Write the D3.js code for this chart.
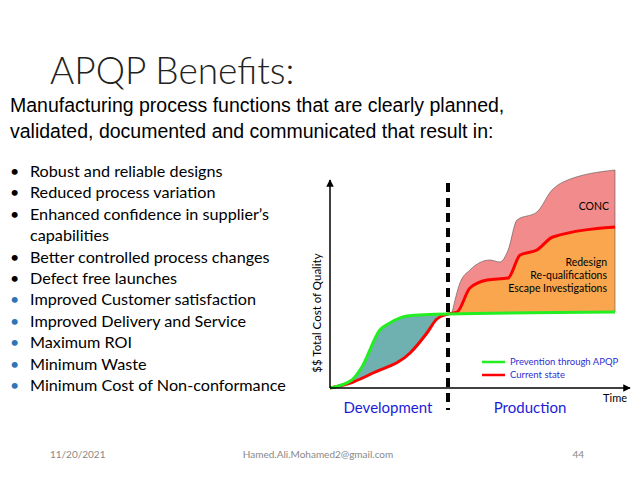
<!DOCTYPE html><html><head><meta charset="utf-8"><script src="https://d3js.org/d3.v7.min.js"></script>
<style>body{margin:0;background:#fff}</style></head><body><svg id="c" width="638" height="478"></svg>
<script>
const bullets=["Robust and reliable designs","Reduced process variation","Enhanced confidence in supplier’s","capabilities","Better controlled process changes","Defect free launches","Improved Customer satisfaction","Improved Delivery and Service","Maximum ROI","Minimum Waste","Minimum Cost of Non-conformance"];
const bulletMark=[1,1,1,0,1,1,2,2,2,2,2];
const greenT=[0,7.7,11.2,17.5,21,27,41.4,100];
const greenV=[0,8,21,58,65,72,74,76];
const redT=[0,8.1,15.1,28.1,34,37.5,41.4,44.6,49.1,55.1,62.5,66.7,72.6,78.2,100];
const redV=[0,6,15,35,55,69,74,76,100,108,110,133,138,151,161];
const concT=[42.8,45.6,49.1,56.1,59.6,62.5,65.6,72.6,77.9,81.8,100];
const concV=[75,105,118,128,126,138,168,176,198,206,218];
const svg=d3.select("#c");
const F="Lato, 'Open Sans', sans-serif";
svg.append("text").attr("x",50).attr("y",84).attr("font-family",F).attr("font-weight",300).attr("font-size",37).attr("fill","#222").text("APQP Benefits:");
["Manufacturing process functions that are clearly planned,","validated, documented and communicated that result in:"].forEach((s,i)=>svg.append("text").attr("x",10).attr("y",112+i*26).style("font-family","'Liberation Sans', Arial, sans-serif").attr("font-size",19.5).attr("fill","#000").text(s));
bullets.forEach((s,i)=>{const y=177+i*21.4;
 if(bulletMark[i])svg.append("text").attr("x",10).attr("y",y).attr("font-family",F).attr("font-size",16).attr("fill",bulletMark[i]==2?"#2e75b6":"#000").text("•");
 svg.append("text").attr("x",30).attr("y",y).attr("font-family",F).attr("font-size",16.2).attr("fill","#000").text(s);});
const x=d3.scaleLinear().domain([0,100]).range([330,615]);
const y=d3.scaleLinear().domain([0,206]).range([388,182]);
const pts=(T,V)=>T.map((t,i)=>[t,V[i]]);
const g=pts(greenT,greenV),r=pts(redT,redV),c=pts(concT,concV);
const cur=d3.curveMonotoneX;
const line=d3.line().x(d=>x(d[0])).y(d=>y(d[1])).curve(cur);
const dev=g.filter(d=>d[0]<=41.4);const devR=r.filter(d=>d[0]<=41.4).slice().reverse();
svg.append("path").attr("d",line(dev)+"L"+line(devR).slice(1)+"Z").attr("fill","#6fb0b0").attr("stroke","#444").attr("stroke-width",0.6);
const rP=r.filter(d=>d[0]>=41.4);
svg.append("path").attr("d",line(c)+"L"+line(rP.slice().reverse()).slice(1)+"Z").attr("fill","#f28b8b").attr("stroke","#555").attr("stroke-width",0.6);
const gP=[[41.4,74],[100,76]];
svg.append("path").attr("d",line(rP)+"L"+line(gP.slice().reverse()).slice(1)+"Z").attr("fill","#f9a64e").attr("stroke","#555").attr("stroke-width",0.6);
svg.append("path").attr("d",line(r)).attr("fill","none").attr("stroke","#ff0000").attr("stroke-width",3);
svg.append("path").attr("d",line(g)).attr("fill","none").attr("stroke","#22ee22").attr("stroke-width",3);
svg.append("defs").append("marker").attr("id","a").attr("viewBox","0 0 10 10").attr("refX",9).attr("refY",5).attr("markerWidth",5).attr("markerHeight",5).attr("orient","auto").append("path").attr("d","M0,0L10,5L0,10Z").attr("fill","#000");
svg.append("line").attr("x1",330).attr("y1",388).attr("x2",330).attr("y2",180).attr("stroke","#000").attr("stroke-width",1.5).attr("marker-end","url(#a)");
svg.append("line").attr("x1",330).attr("y1",388).attr("x2",630).attr("y2",388).attr("stroke","#000").attr("stroke-width",1.5).attr("marker-end","url(#a)");
svg.append("line").attr("x1",448).attr("y1",183).attr("x2",448).attr("y2",410).attr("stroke","#000").attr("stroke-width",4).attr("stroke-dasharray","9,6");
svg.append("text").attr("transform","translate(321,313) rotate(-90)").attr("text-anchor","middle").attr("font-family",F).attr("font-size",11.5).text("$$ Total Cost of Quality");
svg.append("text").attr("x",388).attr("y",413).attr("text-anchor","middle").attr("font-family",F).attr("font-size",15).attr("fill","#1c1cd8").text("Development");
svg.append("text").attr("x",530).attr("y",413).attr("text-anchor","middle").attr("font-family",F).attr("font-size",15).attr("fill","#1c1cd8").text("Production");
svg.append("text").attr("x",627).attr("y",402).attr("text-anchor","end").attr("font-family",F).attr("font-size",11).text("Time");
svg.append("text").attr("x",609).attr("y",210).attr("text-anchor","end").attr("font-family",F).attr("font-size",10.5).text("CONC");
["Redesign","Re-qualifications","Escape Investigations"].forEach((s,i)=>svg.append("text").attr("x",607).attr("y",266+i*13).attr("text-anchor","end").attr("font-family",F).attr("font-size",10.5).text(s));
[["#22ee22","Prevention through APQP",362],["#ff0000","Current state",375]].forEach(([col,s,yy])=>{
 svg.append("line").attr("x1",482).attr("x2",505).attr("y1",yy).attr("y2",yy).attr("stroke",col).attr("stroke-width",2.5);
 svg.append("text").attr("x",510).attr("y",yy+3).attr("font-family",F).attr("font-size",9.5).attr("fill","#3030d0").text(s);});
svg.append("text").attr("x",50).attr("y",458).attr("font-family",F).attr("font-size",10).attr("fill","#888").text("11/20/2021");
svg.append("text").attr("x",318).attr("y",458).attr("text-anchor","middle").attr("font-family",F).attr("font-size",10).attr("fill","#888").text("Hamed.Ali.Mohamed2@gmail.com");
svg.append("text").attr("x",584).attr("y",458).attr("text-anchor","end").attr("font-family",F).attr("font-size",10).attr("fill","#888").text("44");
</script></body></html>
